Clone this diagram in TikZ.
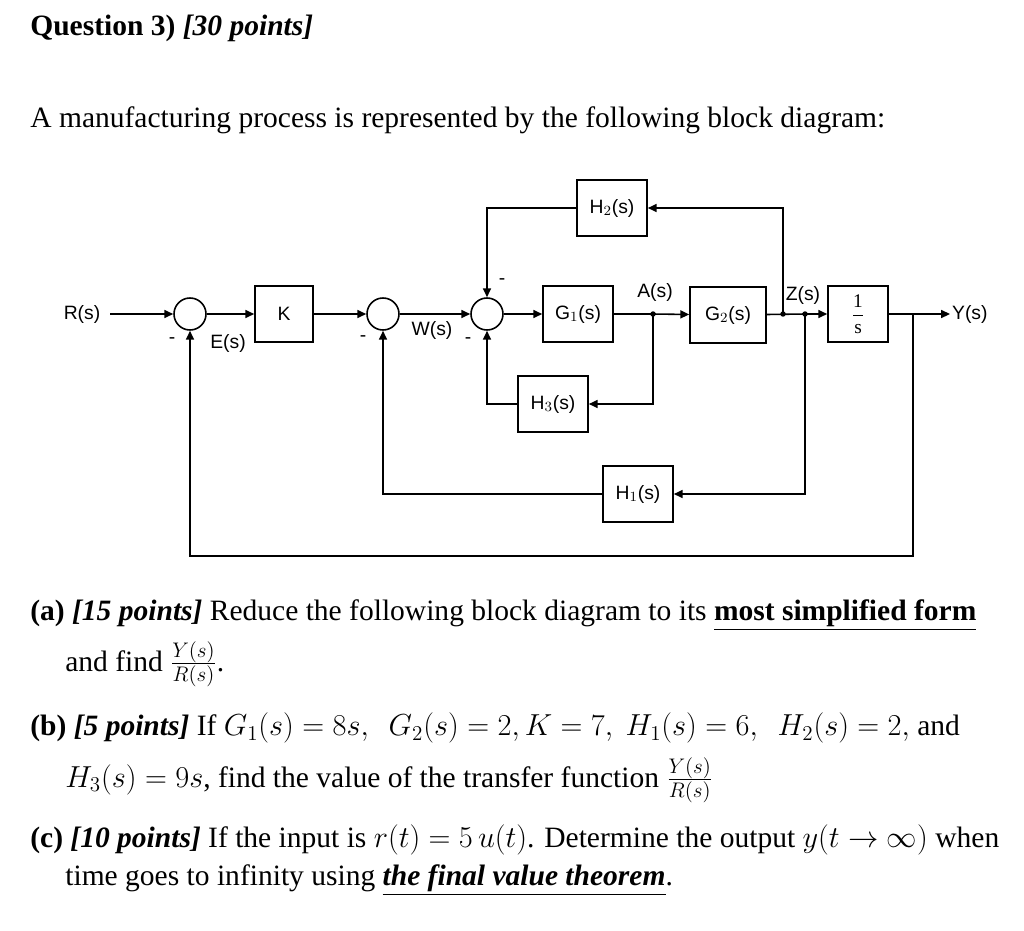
\documentclass[tikz,border=0pt]{standalone}
\usepackage{fontspec}
\setmainfont{Liberation Serif}
\newfontfamily\dsans{Liberation Sans}
\usetikzlibrary{arrows.meta}
\begin{document}
\begin{tikzpicture}[x=0.02cm,y=-0.02cm,
  blk/.style={draw,line width=0.9pt,minimum width=#1*0.02cm,minimum height=1.12cm,inner sep=0pt,font=\dsans\fontsize{11}{13}\selectfont},
  blk/.default=70,
  sm/.style={draw,circle,line width=0.9pt,minimum size=0.64cm,inner sep=0pt},
  w/.style={line width=0.9pt},
  a/.style={w,-{Triangle[length=5pt,width=4.5pt]}},
  lb/.style={font=\dsans\fontsize{11}{13}\selectfont,inner sep=1pt},
  txt/.style={anchor=west,inner sep=0pt,font=\fontsize{16.8}{19}\selectfont},
  dot/.style={circle,fill,inner sep=1.1pt}]
\useasboundingbox (0,0) rectangle (1024,930);
\node[txt] (t1) at (30,28) {\textbf{Question 3)} \textbf{\textit{[30 points]}}};
\node[txt] (t2) at (30,120) {A manufacturing process is represented by the following block diagram:};
% diagram
\node[lb] (R) at (82,314) {R(s)};
\node[sm] (s1) at (190,314) {};
\node[blk=58] (K) at (284,314) {K};
\node[sm] (s2) at (383,314) {};
\node[sm] (s3) at (487,314) {};
\node[blk] (G1) at (578,314) {G$_1$(s)};
\node[blk=76] (G2) at (728,315) {G$_2$(s)};
\node[blk=60] (I) at (858,314) {$\displaystyle\frac{\mathrm{1}}{\mathrm{s}}$};
\node[blk] (H2) at (612,208) {H$_2$(s)};
\node[blk] (H3) at (553,404) {H$_3$(s)};
\node[blk] (H1) at (638,494) {H$_1$(s)};
\node[lb,anchor=west] (Y) at (950,314) {Y(s)};
\coordinate (jA) at (653,314);
\coordinate (jB) at (783,314);
\coordinate (jZ) at (805,314);
\coordinate (jY) at (913,314);
\node[dot] at (jA) {};\node[dot] at (jB) {};\node[dot] at (jZ) {};
\draw[a] (R.east)++(8,0) -- (s1);
\draw[a] (s1) -- (K);
\draw[a] (K) -- (s2);
\draw[a] (s2) -- (s3);
\draw[a] (s3) -- (G1);
\draw[w] (G1) -- (jA);
\draw[a] (jA) -- (G2);
\draw[w] (G2) -- (jZ);
\draw[a] (jZ) -- (I);
\draw[a] (I) -- (Y);
\draw[a] (jB) |- (H2);
\draw[a] (H2) -| (s3);
\draw[a] (jA) |- (H3);
\draw[a] (H3) -| (s3);
\draw[a] (jZ) |- (H1);
\draw[a] (H1) -| (s2);
\draw[a] (jY) -- (913,556) -| (s1);
\node[lb] (E) at (228,343) {E(s)};
\node[lb] (W) at (432,330) {W(s)};
\node[lb] (A) at (655,292) {A(s)};
\node[lb] (Z) at (803,295) {Z(s)};
\node[lb] (m1) at (172,341) {-};
\node[lb] (m2) at (363,339) {-};
\node[lb] (m3) at (468,341) {-};
\node[lb] (m4) at (502,282) {-};
% questions
\node[txt] (qa) at (30,615) {\textbf{(a)} \textbf{\textit{[15 points]}} Reduce the following block diagram to its \underline{\textbf{most simplified form}}};
\node[txt] (qa2) at (65,664) {and find $\frac{Y(s)}{R(s)}$.};
\node[txt] (qb) at (30,728) {\textbf{(b)} \textbf{\textit{[5 points]}} If $G_1(s)=8s,\ \ G_2(s)=2, K=7,\ H_1(s)=6,\ \ H_2(s)=2,$ and};
\node[txt] (qb2) at (65,780) {$H_3(s)=9s$, find the value of the transfer function $\frac{Y(s)}{R(s)}$};
\node[txt] (qc) at (30,840) {\textbf{(c)} \textbf{\textit{[10 points]}} If the input is $r(t)=5\,u(t)$. Determine the output $y(t\rightarrow\infty)$ when};
\node[txt] (qc2) at (65,880) {time goes to infinity using \underline{\textbf{\textit{the final value theorem}}}.};
\end{tikzpicture}
\end{document}
